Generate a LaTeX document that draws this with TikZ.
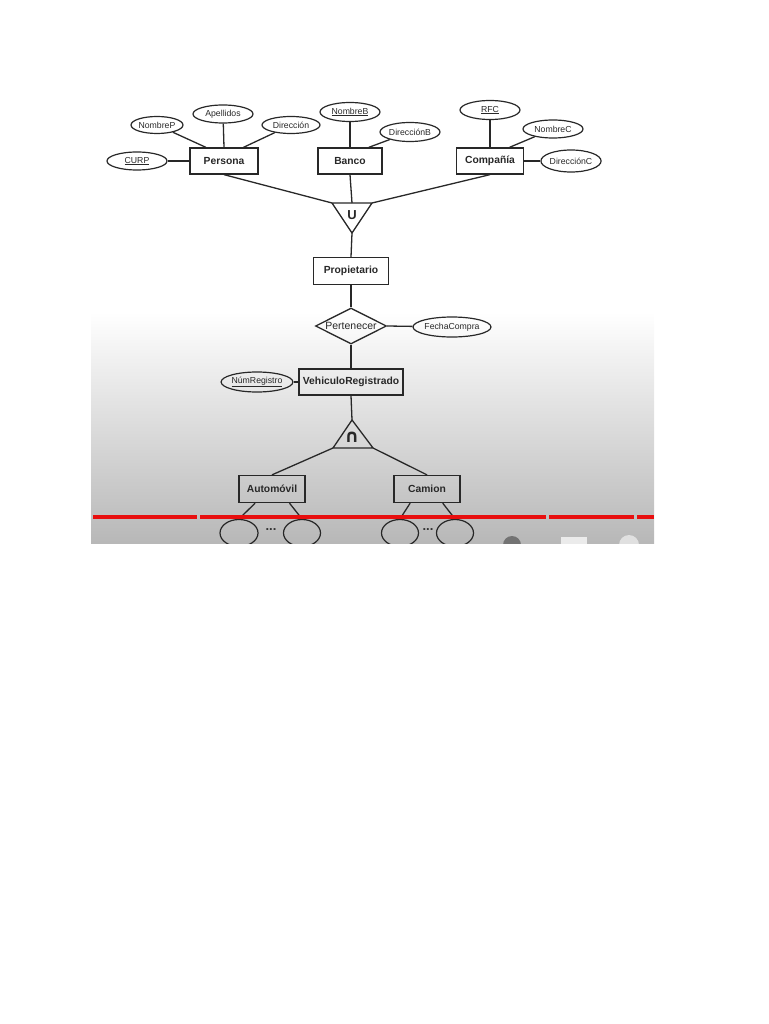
\documentclass[tikz,border=0pt]{standalone}
\usepackage{amsmath}
\usepackage{fontspec}
\setmainfont{Liberation Sans}
\newfontfamily\symfont{DejaVu Sans}
\usetikzlibrary{shapes.geometric}
\definecolor{barred}{RGB}{232,14,14}
\definecolor{inkgray}{RGB}{40,40,40}

\begin{document}
\begin{tikzpicture}[x=1pt,y=-1pt]
\tikzstyle{every node}+=[inner sep=0pt, text=inkgray]
\tikzstyle{entity}=[draw=inkgray, line width=1.3pt, minimum height=26pt, font=\fontsize{10.3}{12}\selectfont\bfseries]
\tikzstyle{attrib}=[draw=inkgray, line width=1.2pt, ellipse, minimum width=60pt, minimum height=18pt, font=\fontsize{8.7}{9}\selectfont]
\tikzstyle{relship}=[draw=inkgray, line width=1.3pt, diamond, minimum width=71pt, minimum height=36pt]
\tikzstyle{blank}=[draw=black!85, line width=1.2pt, ellipse, minimum width=37pt, minimum height=27pt]
\tikzstyle{link}=[draw=inkgray, line width=1.3pt]
\tikzstyle{progress}=[draw=barred, line width=3.6pt]
\useasboundingbox (0,0) rectangle (768,1024);
\shade [top color=white, bottom color=black!28] (91,312) rectangle (654,543);

\node [entity, minimum width=68pt] (persona) at (224,161) {Persona};
\node [entity, minimum width=64pt] (banco) at (350,161) {Banco};
\node [entity, minimum width=67pt] (compania) at (490,161) {Compañía};
\node [attrib] (curp) at (137,161) {\underline{CURP}};
\node [attrib, minimum width=52pt, minimum height=17pt] (nombrep) at (157,125) {NombreP};
\node [attrib] (apellidos) at (223,114) {Apellidos};
\node [attrib, minimum width=58pt, minimum height=17pt] (direccion) at (291,125) {Dirección};
\node [attrib, minimum height=19pt] (nombreb) at (350,112) {\underline{NombreB}};
\node [attrib, minimum height=19pt] (direccionb) at (410,132) {DirecciónB};
\node [attrib, minimum height=19pt] (rfc) at (490,110) {\underline{RFC}};
\node [attrib] (nombrec) at (553,129) {NombreC};
\node [attrib, minimum height=22pt] (direccionc) at (571,161) {DirecciónC};
\draw [link] (curp) -- (persona);
\draw [link] (nombrep) -- (persona.143);
\draw [link] (apellidos) -- (persona.north);
\draw [link] (direccion) -- (persona.35);
\draw [link] (nombreb) -- (banco.north);
\draw [link] (direccionb) -- (banco.36);
\draw [link] (rfc) -- (compania.north);
\draw [link] (nombrec) -- (compania.35);
\draw [link] (direccionc) -- (compania);

\coordinate (ul) at (332,203);
\coordinate (um) at (352,203);
\coordinate (ur) at (372,203);
\coordinate (ub) at (352,233);
\draw [link, line join=round] (ul) -- (ur) -- (ub) -- cycle;
\node [font=\fontsize{13}{13}\selectfont\bfseries] (union) at (352,215) {U};
\draw [link] (persona.south) -- (ul);
\draw [link] (banco.south) -- (um);
\draw [link] (compania.south) -- (ur);

\node [entity, minimum width=75pt, minimum height=27pt] (propietario) at (351,271) {Propietario};
\draw [link] (ub) -- (propietario.north);
\node [relship] (pertenecer) at (351,326) {};
\node [font=\fontsize{10.5}{12}\selectfont] (pertxt) at (351,326) {Pertenecer};
\node [attrib, minimum width=72pt, minimum height=20pt] (fecha) at (452,327) {FechaCompra};
\draw [link] (propietario.south) -- (pertenecer.north);
\draw [link] (pertenecer.east) -- (fecha);
\node [entity, minimum width=104pt] (vehiculo) at (351,382) {VehiculoRegistrado};
\node [attrib, minimum height=20pt] (numreg) at (257,382) {\underline{NúmRegistro}};
\draw [link] (pertenecer.south) -- (vehiculo.north);
\draw [link] (numreg) -- (vehiculo);

\coordinate (ia) at (352,420);
\coordinate (il) at (333,448);
\coordinate (ir) at (373,448);
\draw [link, line join=round] (ia) -- (ir) -- (il) -- cycle;
\node [font=\symfont\fontsize{18}{18}\selectfont\bfseries] (inter) at (352,437) {∩};
\draw [link] (vehiculo.south) -- (ia);
\node [entity, minimum width=66pt, minimum height=27pt] (automovil) at (272,489) {Automóvil};
\node [entity, minimum width=66pt, minimum height=27pt] (camion) at (427,489) {Camion};
\draw [link] (il) -- (automovil.north);
\draw [link] (ir) -- (camion.north);

\begin{scope}
\clip (91,300) rectangle (654,543);
\node [blank, minimum width=38pt] (auto1) at (239,533) {};
\node [blank] (auto2) at (302,533) {};
\node [blank] (cam1) at (400,533) {};
\node [blank] (cam2) at (455,533) {};
\node [font=\fontsize{13}{13}\selectfont\bfseries, text=black!80] (autodots) at (271,530) {...};
\node [font=\fontsize{13}{13}\selectfont\bfseries, text=black!80] (camdots) at (428,530) {...};
\draw [link] (automovil.220) -- (auto1.north);
\draw [link] (automovil.321) -- (auto2.north);
\draw [link] (camion.220) -- (cam1.north);
\draw [link] (camion.318) -- (cam2.north);
\fill [black!55] (512,545) circle (9);
\fill [white!92!black] (561,537) rectangle (587,546);
\fill [white!88!black] (629,545) circle (10);
\end{scope}

\draw [progress] (93,517) -- (197,517);
\draw [progress] (200,517) -- (546,517);
\draw [progress] (549,517) -- (634,517);
\draw [progress] (637,517) -- (654,517);
\end{tikzpicture}
\end{document}
